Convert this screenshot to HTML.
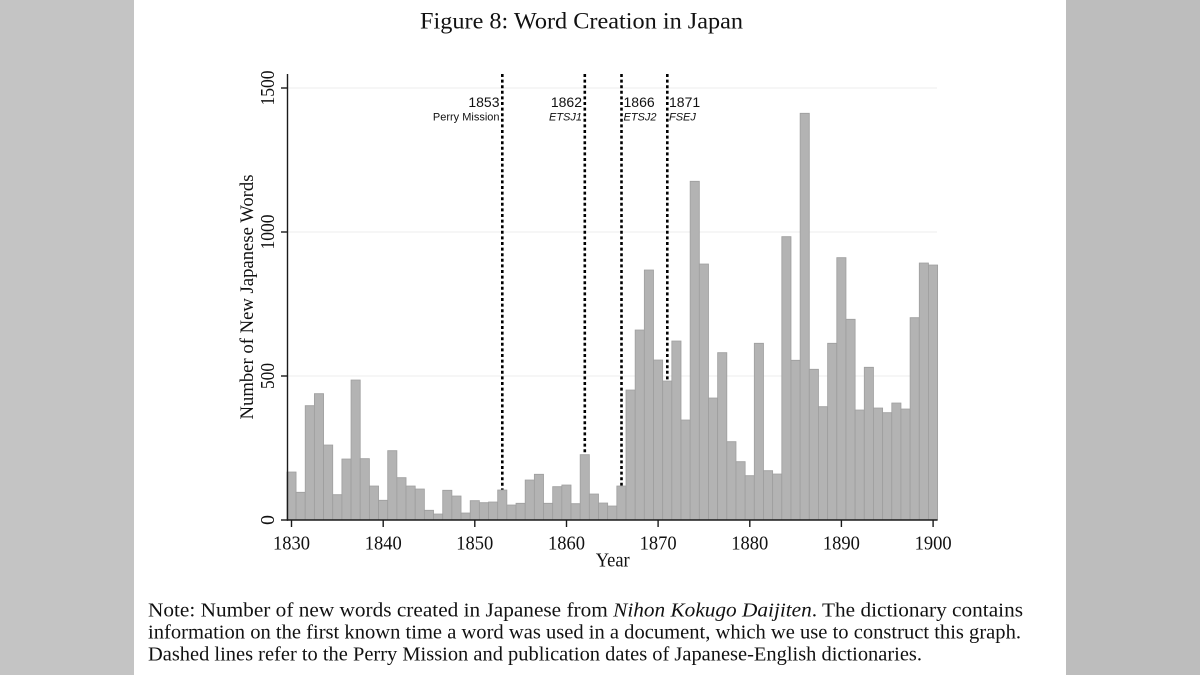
<!DOCTYPE html>
<html>
<head>
<meta charset="utf-8">
<style>
html,body{margin:0;padding:0;background:#c2c2c2;}
svg{display:block;}
</style>
</head>
<body>
<svg width="1200" height="675" viewBox="0 0 1200 675" xmlns="http://www.w3.org/2000/svg">
  <rect x="0" y="0" width="1200" height="675" fill="#c2c2c2"/>
  <rect x="0" y="0" width="134" height="675" fill="#c4c4c4"/>
  <rect x="1066" y="0" width="134" height="675" fill="#bdbdbd"/>
  <rect x="134" y="0" width="932" height="675" fill="#ffffff"/>

  <!-- Title -->
  <text x="420" y="28.5" font-family="Liberation Serif, serif" font-size="23" fill="#111" textLength="323" lengthAdjust="spacingAndGlyphs">Figure 8: Word Creation in Japan</text>

  <!-- gridlines -->
  <g stroke="#ececec" stroke-width="1">
    <line x1="288" y1="88" x2="937" y2="88"/>
    <line x1="288" y1="232" x2="937" y2="232"/>
    <line x1="288" y1="376" x2="937" y2="376"/>
  </g>

  <!-- dotted vertical lines -->
  <g stroke="#000" stroke-width="2.6" stroke-dasharray="3 2.6">
    <line x1="502.3" y1="74" x2="502.3" y2="520"/>
    <line x1="584.8" y1="74" x2="584.8" y2="520"/>
    <line x1="621.5" y1="74" x2="621.5" y2="520"/>
    <line x1="667.3" y1="74" x2="667.3" y2="520"/>
  </g>

  <!-- bars -->
  <g transform="translate(286.9,0) scale(9.165,1)" fill="#b3b3b3" stroke="#9e9e9e" stroke-width="0.8">
    <rect vector-effect="non-scaling-stroke" x="0" y="472" width="1" height="48"/>
    <rect vector-effect="non-scaling-stroke" x="1" y="492.3" width="1" height="27.7"/>
    <rect vector-effect="non-scaling-stroke" x="2" y="405.7" width="1" height="114.3"/>
    <rect vector-effect="non-scaling-stroke" x="3" y="393.7" width="1" height="126.3"/>
    <rect vector-effect="non-scaling-stroke" x="4" y="445" width="1" height="75"/>
    <rect vector-effect="non-scaling-stroke" x="5" y="494.7" width="1" height="25.3"/>
    <rect vector-effect="non-scaling-stroke" x="6" y="459" width="1" height="61"/>
    <rect vector-effect="non-scaling-stroke" x="7" y="380" width="1" height="140"/>
    <rect vector-effect="non-scaling-stroke" x="8" y="458.7" width="1" height="61.3"/>
    <rect vector-effect="non-scaling-stroke" x="9" y="486" width="1" height="34"/>
    <rect vector-effect="non-scaling-stroke" x="10" y="500.3" width="1" height="19.7"/>
    <rect vector-effect="non-scaling-stroke" x="11" y="450.7" width="1" height="69.3"/>
    <rect vector-effect="non-scaling-stroke" x="12" y="477.7" width="1" height="42.3"/>
    <rect vector-effect="non-scaling-stroke" x="13" y="486" width="1" height="34"/>
    <rect vector-effect="non-scaling-stroke" x="14" y="489" width="1" height="31"/>
    <rect vector-effect="non-scaling-stroke" x="15" y="510.3" width="1" height="9.7"/>
    <rect vector-effect="non-scaling-stroke" x="16" y="514" width="1" height="6"/>
    <rect vector-effect="non-scaling-stroke" x="17" y="490.3" width="1" height="29.7"/>
    <rect vector-effect="non-scaling-stroke" x="18" y="496" width="1" height="24"/>
    <rect vector-effect="non-scaling-stroke" x="19" y="513" width="1" height="7"/>
    <rect vector-effect="non-scaling-stroke" x="20" y="500.7" width="1" height="19.3"/>
    <rect vector-effect="non-scaling-stroke" x="21" y="502.7" width="1" height="17.3"/>
    <rect vector-effect="non-scaling-stroke" x="22" y="502" width="1" height="18"/>
    <rect vector-effect="non-scaling-stroke" x="23" y="490" width="1" height="30"/>
    <rect vector-effect="non-scaling-stroke" x="24" y="505" width="1" height="15"/>
    <rect vector-effect="non-scaling-stroke" x="25" y="503.3" width="1" height="16.7"/>
    <rect vector-effect="non-scaling-stroke" x="26" y="480" width="1" height="40"/>
    <rect vector-effect="non-scaling-stroke" x="27" y="474.3" width="1" height="45.7"/>
    <rect vector-effect="non-scaling-stroke" x="28" y="503.3" width="1" height="16.7"/>
    <rect vector-effect="non-scaling-stroke" x="29" y="486.7" width="1" height="33.3"/>
    <rect vector-effect="non-scaling-stroke" x="30" y="485" width="1" height="35"/>
    <rect vector-effect="non-scaling-stroke" x="31" y="503.7" width="1" height="16.3"/>
    <rect vector-effect="non-scaling-stroke" x="32" y="454.7" width="1" height="65.3"/>
    <rect vector-effect="non-scaling-stroke" x="33" y="494" width="1" height="26"/>
    <rect vector-effect="non-scaling-stroke" x="34" y="503" width="1" height="17"/>
    <rect vector-effect="non-scaling-stroke" x="35" y="506" width="1" height="14"/>
    <rect vector-effect="non-scaling-stroke" x="36" y="486" width="1" height="34"/>
    <rect vector-effect="non-scaling-stroke" x="37" y="390" width="1" height="130"/>
    <rect vector-effect="non-scaling-stroke" x="38" y="330" width="1" height="190"/>
    <rect vector-effect="non-scaling-stroke" x="39" y="270" width="1" height="250"/>
    <rect vector-effect="non-scaling-stroke" x="40" y="360" width="1" height="160"/>
    <rect vector-effect="non-scaling-stroke" x="41" y="381" width="1" height="139"/>
    <rect vector-effect="non-scaling-stroke" x="42" y="341" width="1" height="179"/>
    <rect vector-effect="non-scaling-stroke" x="43" y="420" width="1" height="100"/>
    <rect vector-effect="non-scaling-stroke" x="44" y="181.3" width="1" height="338.7"/>
    <rect vector-effect="non-scaling-stroke" x="45" y="264" width="1" height="256"/>
    <rect vector-effect="non-scaling-stroke" x="46" y="398" width="1" height="122"/>
    <rect vector-effect="non-scaling-stroke" x="47" y="352.7" width="1" height="167.3"/>
    <rect vector-effect="non-scaling-stroke" x="48" y="441.7" width="1" height="78.3"/>
    <rect vector-effect="non-scaling-stroke" x="49" y="461.7" width="1" height="58.3"/>
    <rect vector-effect="non-scaling-stroke" x="50" y="475.7" width="1" height="44.3"/>
    <rect vector-effect="non-scaling-stroke" x="51" y="343.3" width="1" height="176.7"/>
    <rect vector-effect="non-scaling-stroke" x="52" y="470.7" width="1" height="49.3"/>
    <rect vector-effect="non-scaling-stroke" x="53" y="474" width="1" height="46"/>
    <rect vector-effect="non-scaling-stroke" x="54" y="236.7" width="1" height="283.3"/>
    <rect vector-effect="non-scaling-stroke" x="55" y="360.3" width="1" height="159.7"/>
    <rect vector-effect="non-scaling-stroke" x="56" y="113.3" width="1" height="406.7"/>
    <rect vector-effect="non-scaling-stroke" x="57" y="369.3" width="1" height="150.7"/>
    <rect vector-effect="non-scaling-stroke" x="58" y="406.7" width="1" height="113.3"/>
    <rect vector-effect="non-scaling-stroke" x="59" y="343.3" width="1" height="176.7"/>
    <rect vector-effect="non-scaling-stroke" x="60" y="257.7" width="1" height="262.3"/>
    <rect vector-effect="non-scaling-stroke" x="61" y="319.3" width="1" height="200.7"/>
    <rect vector-effect="non-scaling-stroke" x="62" y="410" width="1" height="110"/>
    <rect vector-effect="non-scaling-stroke" x="63" y="367.3" width="1" height="152.7"/>
    <rect vector-effect="non-scaling-stroke" x="64" y="408" width="1" height="112"/>
    <rect vector-effect="non-scaling-stroke" x="65" y="412.7" width="1" height="107.3"/>
    <rect vector-effect="non-scaling-stroke" x="66" y="403" width="1" height="117"/>
    <rect vector-effect="non-scaling-stroke" x="67" y="409" width="1" height="111"/>
    <rect vector-effect="non-scaling-stroke" x="68" y="317.7" width="1" height="202.3"/>
    <rect vector-effect="non-scaling-stroke" x="69" y="263" width="1" height="257"/>
    <rect vector-effect="non-scaling-stroke" x="70" y="265" width="1" height="255"/>
  </g>

  <!-- axes -->
  <g stroke="#1a1a1a" stroke-width="1.4" fill="none">
    <line x1="287.5" y1="74" x2="287.5" y2="520.7"/>
    <line x1="286.8" y1="520" x2="937.5" y2="520"/>
    <line x1="281" y1="88" x2="287.5" y2="88"/>
    <line x1="281" y1="232" x2="287.5" y2="232"/>
    <line x1="281" y1="376" x2="287.5" y2="376"/>
    <line x1="281" y1="520" x2="287.5" y2="520"/>
    <line x1="291.5" y1="520" x2="291.5" y2="527"/>
    <line x1="383.2" y1="520" x2="383.2" y2="527"/>
    <line x1="474.8" y1="520" x2="474.8" y2="527"/>
    <line x1="566.5" y1="520" x2="566.5" y2="527"/>
    <line x1="658.1" y1="520" x2="658.1" y2="527"/>
    <line x1="749.8" y1="520" x2="749.8" y2="527"/>
    <line x1="841.4" y1="520" x2="841.4" y2="527"/>
    <line x1="933.1" y1="520" x2="933.1" y2="527"/>
  </g>

  <!-- x tick labels -->
  <g font-family="Liberation Serif, serif" font-size="20" fill="#111" text-anchor="middle">
    <text x="291.5" y="549.5" textLength="37" lengthAdjust="spacingAndGlyphs">1830</text>
    <text x="383.2" y="549.5" textLength="37" lengthAdjust="spacingAndGlyphs">1840</text>
    <text x="474.8" y="549.5" textLength="37" lengthAdjust="spacingAndGlyphs">1850</text>
    <text x="566.5" y="549.5" textLength="37" lengthAdjust="spacingAndGlyphs">1860</text>
    <text x="658.1" y="549.5" textLength="37" lengthAdjust="spacingAndGlyphs">1870</text>
    <text x="749.8" y="549.5" textLength="37" lengthAdjust="spacingAndGlyphs">1880</text>
    <text x="841.4" y="549.5" textLength="37" lengthAdjust="spacingAndGlyphs">1890</text>
    <text x="933.1" y="549.5" textLength="37" lengthAdjust="spacingAndGlyphs">1900</text>
    <text x="612.7" y="566.5" textLength="34" lengthAdjust="spacingAndGlyphs">Year</text>
  </g>

  <!-- y tick labels (rotated) -->
  <g font-family="Liberation Serif, serif" font-size="20" fill="#111" text-anchor="middle">
    <text transform="translate(274,88) rotate(-90)" x="0" y="0" textLength="35" lengthAdjust="spacingAndGlyphs">1500</text>
    <text transform="translate(274,232) rotate(-90)" x="0" y="0" textLength="35" lengthAdjust="spacingAndGlyphs">1000</text>
    <text transform="translate(274,376) rotate(-90)" x="0" y="0" textLength="26" lengthAdjust="spacingAndGlyphs">500</text>
    <text transform="translate(274,520) rotate(-90)" x="0" y="0">0</text>
    <text transform="translate(253,297) rotate(-90)" x="0" y="0" font-size="19" textLength="245" lengthAdjust="spacingAndGlyphs">Number of New Japanese Words</text>
  </g>

  <!-- event labels -->
  <g font-family="Liberation Sans, Arial, sans-serif" fill="#111">
    <text x="499.5" y="107" font-size="14" text-anchor="end">1853</text>
    <text x="499.5" y="120.5" font-size="11" text-anchor="end">Perry Mission</text>
    <text x="582" y="107" font-size="14" text-anchor="end">1862</text>
    <text x="582" y="120.5" font-size="11" font-style="italic" text-anchor="end">ETSJ1</text>
    <text x="623.5" y="107" font-size="14">1866</text>
    <text x="623.5" y="120.5" font-size="11" font-style="italic">ETSJ2</text>
    <text x="669" y="107" font-size="14">1871</text>
    <text x="669" y="120.5" font-size="11" font-style="italic">FSEJ</text>
  </g>

  <!-- note -->
  <g font-family="Liberation Serif, serif" font-size="20.5" fill="#111">
    <text x="148" y="616.7" textLength="875" lengthAdjust="spacingAndGlyphs">Note:  Number of new words created in Japanese from <tspan font-style="italic">Nihon Kokugo Daijiten</tspan>.  The dictionary contains</text>
    <text x="148" y="638.7" textLength="873" lengthAdjust="spacingAndGlyphs">information on the first known time a word was used in a document, which we use to construct this graph.</text>
    <text x="148" y="660.7" textLength="774" lengthAdjust="spacingAndGlyphs">Dashed lines refer to the Perry Mission and publication dates of Japanese-English dictionaries.</text>
  </g>
</svg>
</body>
</html>
